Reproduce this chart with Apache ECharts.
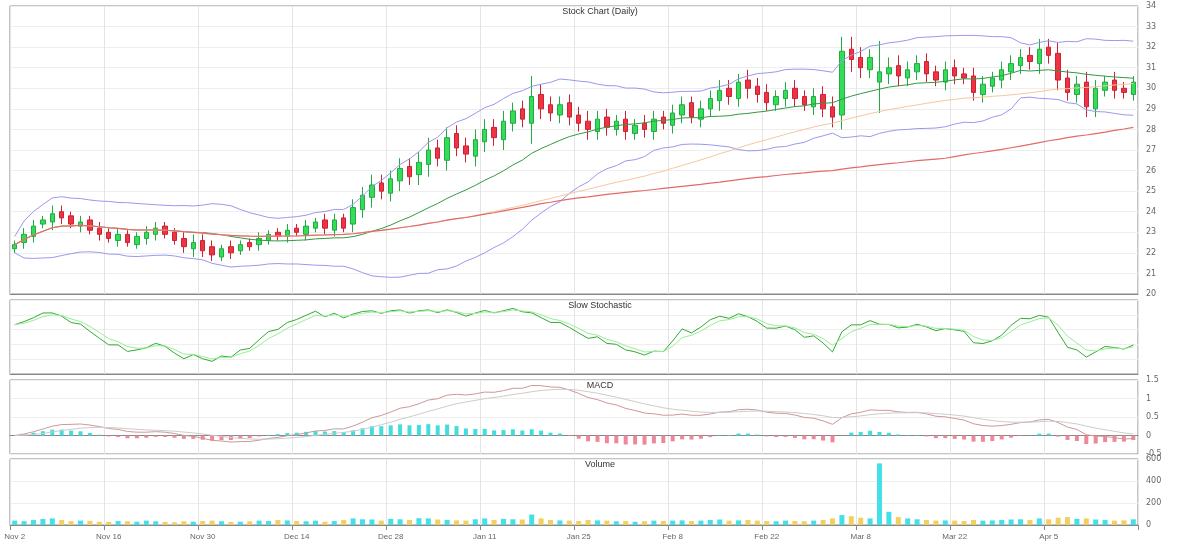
<!DOCTYPE html>
<html><head><meta charset="utf-8">
<script src="https://cdn.jsdelivr.net/npm/echarts@6/dist/echarts.min.js"></script>
<style>html,body{margin:0;background:#fff}#c{width:1200px;height:547px}</style>
</head><body><div id="c"></div>
<script>
// daily candles
var opens = [22.2,22.5,22.8,23.4,23.5,24.0,23.8,23.3,23.6,23.2, 23.0,22.6,22.9,22.4,22.7,22.9,23.3,23.0,22.7,22.2,
  22.6,22.3,21.8,22.3,22.1,22.5,22.4,22.6,23.0,22.8, 23.2,22.9,23.2,23.6,23.1,23.7,23.4,24.1,24.7,25.4,
  24.9,25.5,26.2,25.8,26.3,27.1,26.5,27.8,27.2,26.7, 27.4,28.1,27.5,28.3,29.0,28.3,29.7,29.2,28.7,29.3,
  28.7,28.4,27.9,28.6,28.0,28.5,27.8,28.3,27.9,28.6, 28.2,28.7,29.3,28.5,29.0,29.4,30.0,29.5,30.4,30.1,
  29.8,29.2,29.5,30.0,29.6,29.1,29.7,29.1,28.7,31.9, 31.5,30.9,30.3,30.7,31.1,30.5,30.8,31.3,30.8,30.3,
  31.0,30.7,30.6,29.7,30.1,30.4,30.8,31.1,31.6,31.2, 32.0,31.7,30.5,29.7,30.3,29.0,29.9,30.4,30.0,29.7];
var closes = [22.4,22.9,23.3,23.6,23.9,23.7,23.4,23.5,23.1,22.9, 22.7,22.9,22.5,22.8,23.0,23.2,22.9,22.6,22.3,22.5,
  22.1,21.9,22.2,22.0,22.4,22.3,22.7,22.9,22.8,23.1, 23.0,23.3,23.5,23.2,23.6,23.2,24.2,24.8,25.3,25.0,
  25.6,26.1,25.7,26.4,27.0,26.6,27.6,27.1,26.8,27.5, 28.0,27.6,28.4,28.9,28.5,29.6,29.0,28.8,29.2,28.6,
  28.3,28.0,28.5,28.1,28.4,27.9,28.2,28.0,28.5,28.3, 28.8,29.2,28.6,29.0,29.5,29.9,29.6,30.3,30.0,29.7,
  29.3,29.6,29.9,29.5,29.2,29.6,29.0,28.6,31.8,31.4, 31.0,31.5,30.8,31.0,30.6,30.9,31.2,30.7,30.4,30.9,
  30.6,30.5,29.8,30.2,30.5,30.9,31.2,31.5,31.3,31.9, 31.6,30.4,29.8,30.2,29.1,30.0,30.3,29.9,29.8,30.3];
var wicks = [0.2,0.3,0.3,0.2,0.4,0.3,0.2,0.3,0.2,0.3, 0.2,0.3,0.2,0.2,0.3,0.3,0.2,0.2,0.3,0.4, 0.3,0.3,0.2,0.3,0.2,0.2,0.3,0.2,0.2,0.3,
  0.2,0.3,0.2,0.3,0.3,0.2,0.4,0.4,0.5,0.4, 0.4,0.5,0.4,0.5,0.6,0.4,0.5,0.4,0.4,0.5, 0.5,0.4,0.5,0.4,0.4,1.0,0.5,0.4,0.4,0.4,
  0.4,0.5,0.4,0.4,0.3,0.4,0.3,0.4,0.4,0.3, 0.4,0.4,0.3,0.4,0.4,0.5,0.4,0.4,0.5,0.4, 0.4,0.3,0.4,0.4,0.3,0.4,0.4,0.5,0.7,0.6,
  0.5,0.4,1.5,0.5,0.5,0.4,0.4,0.4,0.3,0.4, 0.4,0.3,0.4,0.4,0.3,0.4,0.4,0.4,0.4,0.5, 0.4,0.5,0.4,0.4,0.5,0.4,0.3,0.4,0.3,0.3];
var volumes = [40,35,45,55,60,45,35,40,38,30, 28,36,34,30,40,34,28,25,34,30, 36,40,34,28,30,34,40,36,46,42,
  36,34,40,30,36,46,60,52,50,40, 56,52,46,62,60,50,46,42,40,52, 60,46,56,52,50,95,60,46,42,40,
  36,46,42,40,34,36,30,34,40,36, 40,42,36,40,46,50,40,42,46,40, 36,34,40,36,34,40,46,60,90,80,
  66,60,560,120,72,60,52,46,40,42, 40,36,46,40,42,46,50,52,46,60, 52,66,72,56,60,50,46,40,42,52];
var monthNames = ['Jan','Feb','Mar','Apr','May','Jun','Jul','Aug','Sep','Oct','Nov','Dec'];

var dates = [];
var d = new Date(2020, 10, 2);
while (dates.length < closes.length) {
  if (d.getDay() > 0 && d.getDay() < 6) dates.push(monthNames[d.getMonth()] + ' ' + d.getDate());
  d.setDate(d.getDate() + 1);
}
var ohlc = closes.map(function (c, i) {
  var o = opens[i];
  return [o, c, Math.min(o, c) - wicks[i], Math.max(o, c) + wicks[i]];
});

function ma(n) {
  return closes.map(function (c, i) {
    var s = 0, k = 0;
    for (var j = Math.max(0, i - n + 1); j <= i; j++) { s += closes[j]; k++; }
    return +(s / k).toFixed(2);
  });
}
function ema(arr, n) {
  var a = 2 / (n + 1), out = [], e = arr[0];
  arr.forEach(function (v) { e = e + a * (v - e); out.push(e); });
  return out;
}
var ma20 = ma(20), ma50 = ma(50), ma100 = ma(100);
var bbUp = [], bbLo = [];
closes.forEach(function (c, i) {
  var s = 0, k = 0, m = ma20[i];
  for (var j = Math.max(0, i - 19); j <= i; j++) { s += Math.pow(closes[j] - m, 2); k++; }
  var sd = Math.sqrt(s / k);
  bbUp.push(+(m + 2 * sd + 0.4).toFixed(2)); bbLo.push(+(m - 2 * sd - 0.4).toFixed(2));
});
var stK = closes.map(function (c, i) {
  var hi = -1e9, lo = 1e9;
  for (var j = Math.max(0, i - 13); j <= i; j++) { hi = Math.max(hi, ohlc[j][3]); lo = Math.min(lo, ohlc[j][2]); }
  return hi === lo ? 50 : (c - lo) / (hi - lo) * 100;
});
var slowK = ema(stK, 3), slowD = ema(slowK, 3);
var e12 = ema(closes, 12), e26 = ema(closes, 26);
var macd = e12.map(function (v, i) { return v - e26[i]; });
var sig = ema(macd, 9);
var hist = macd.map(function (v, i) { return +(v - sig[i]).toFixed(3); });

var grids = [
  { left: 10, right: 62, top: 6, height: 288 },
  { left: 10, right: 62, top: 300, height: 74 },
  { left: 10, right: 62, top: 380, height: 74 },
  { left: 10, right: 62, top: 459, height: 66 }
];
grids.forEach(function (g) { g.show = true; g.borderColor = '#888'; g.borderWidth = 1; });
var titles = ['Stock Chart (Daily)', 'Slow Stochastic', 'MACD', 'Volume'];
var ax = { fontSize: 8, color: '#666', fontFamily: 'DejaVu Sans' };
var xAxes = grids.map(function (g, i) {
  return { type: 'category', gridIndex: i, data: dates, boundaryGap: true,
    axisLine: { lineStyle: { color: '#888' } }, axisTick: { show: i === 3, interval: 9 },
    axisLabel: { show: i === 3, interval: 9, fontSize: 8, color: '#666' },
    splitLine: { show: true, interval: 9, lineStyle: { color: '#e4e4e4' } } };
});
var yAxes = [
  { gridIndex: 0, min: 20, max: 34, position: 'right', interval: 1, axisLabel: ax,
    splitLine: { lineStyle: { color: '#eee' } } },
  { gridIndex: 1, min: 0, max: 100, interval: 20, position: 'right', axisLabel: { show: false }, splitLine: { lineStyle: { color: '#eee' } } },
  { gridIndex: 2, position: 'right', axisLabel: ax, splitNumber: 3, splitLine: { lineStyle: { color: '#eee' } } },
  { gridIndex: 3, position: 'right', axisLabel: ax, splitNumber: 3, splitLine: { lineStyle: { color: '#eee' } } }
];
function line(name, data, color, xi, w) {
  return { name: name, type: 'line', data: data, xAxisIndex: xi, yAxisIndex: xi, showSymbol: false,
    lineStyle: { color: color, width: w || 1 }, z: 3 };
}
var option = {
  backgroundColor: '#fff',
  animation: false,
  title: titles.map(function (t, i) {
    return { text: t, left: 'center', top: grids[i].top - 4, textStyle: { fontSize: 9, color: '#333', fontWeight: 'normal' } };
  }),
  grid: grids,
  xAxis: xAxes,
  yAxis: yAxes,
  series: [
    { type: 'candlestick', data: ohlc, barWidth: 5,
      itemStyle: { color: '#33dd55', color0: '#ee3344', borderColor: '#22aa44', borderColor0: '#cc2233' } },
    line('BB upper', bbUp, '#9999ee', 0),
    line('BB lower', bbLo, '#9999ee', 0),
    line('MA20', ma20, '#339944', 0),
    line('MA50', ma50, '#f5c8a0', 0),
    line('MA100', ma100, '#e36a6a', 0, 1.2),
    line('%K', slowK, '#33aa33', 1),
    line('%D', slowD, '#99ee99', 1),
    { type: 'bar', xAxisIndex: 2, yAxisIndex: 2, data: hist, barWidth: 4,
      itemStyle: { color: function (p) { return p.value >= 0 ? '#44dddd' : '#ee8899'; } } },
    line('MACD', macd, '#cc9999', 2),
    line('Signal', sig, '#cccccc', 2),
    { type: 'bar', xAxisIndex: 3, yAxisIndex: 3, data: volumes, barWidth: 5,
      itemStyle: { color: function (p) { return closes[p.dataIndex] >= opens[p.dataIndex] ? '#44e0e8' : '#f2d060'; } } }
  ]
};
echarts.init(document.getElementById('c')).setOption(option);
</script></body></html>
